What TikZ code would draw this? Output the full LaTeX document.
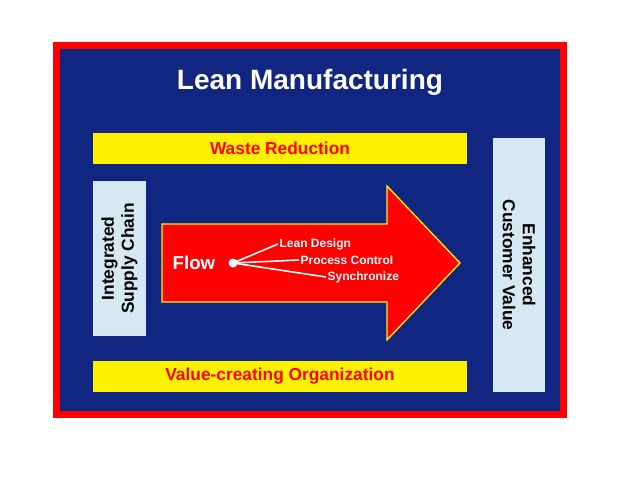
\documentclass[tikz,border=0pt]{standalone}
\usepackage{fontspec}
\setmainfont{Liberation Sans}
\begin{document}
\begin{tikzpicture}[x=0.75pt,y=-0.75pt,
  bar/.style={fill=yellow,draw=none},
  sidebox/.style={fill=cyan!10!blue!8!white,draw=none},
  lbl/.style={font=\bfseries,align=center,inner sep=0pt},
  sub/.style={text=white,font=\fontsize{9}{10}\selectfont\bfseries,anchor=west,inner sep=1pt}]
\definecolor{navy}{RGB}{16,38,128}
\definecolor{lblue}{RGB}{214,232,242}
\useasboundingbox (0,0) rectangle (638,478);
\fill[white] (0,0) rectangle (638,478);
\draw[red,line width=5pt,fill=navy] (56.5,45.5) rectangle (563.5,414.5);
\node[text=white,font=\fontsize{21}{24}\selectfont\bfseries] (title) at (310,82) {Lean Manufacturing};
\fill[yellow] (93,133) rectangle (467,164);
\node[lbl,text=red,font=\fontsize{13}{15}\selectfont\bfseries] (waste) at (280,148.5) {Waste Reduction};
\fill[yellow] (93,361) rectangle (467,392);
\node[lbl,text=red,font=\fontsize{13}{15}\selectfont\bfseries] (value) at (280,376.5) {Value-creating Organization};
\fill[lblue] (93,181) rectangle (146,336);
\node[lbl,rotate=90,font=\fontsize{13}{15}\selectfont\bfseries] (isc) at (119.5,258.5) {Integrated\\Supply Chain};
\fill[lblue] (493,138) rectangle (545,392);
\node[lbl,rotate=-90,font=\fontsize{13}{15}\selectfont\bfseries] (ecv) at (519,265) {Enhanced\\Customer Value};
\draw[yellow,line width=1pt,fill=red,line join=miter] (162,224) -- (387,224) -- (387,186) -- (460,263) -- (387,340) -- (387,302) -- (162,302) -- cycle;
\node[text=white,font=\fontsize{14}{16}\selectfont\bfseries,inner sep=0pt] (flow) at (194,263) {Flow};
\fill[white] (233,263) circle (4.5);
\coordinate (dot) at (233,263);
\node[sub] (ld) at (278,244) {Lean Design};
\node[sub] (pc) at (299,260) {Process Control};
\node[sub] (sy) at (326,277) {Synchronize};
\draw[white,line width=1.2pt] (dot) -- (ld.west);
\draw[white,line width=1.2pt] (dot) -- (pc.west);
\draw[white,line width=1.2pt] (dot) -- (sy.west);
\end{tikzpicture}
\end{document}
